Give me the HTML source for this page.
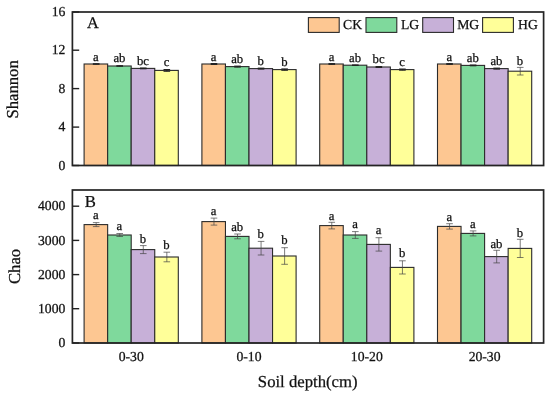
<!DOCTYPE html>
<html><head><meta charset="utf-8"><title>Chart</title>
<style>
html,body{margin:0;padding:0;background:#fff;}
svg{display:block;}
text{font-family:"Liberation Serif","Times New Roman",serif;fill:#111;text-rendering:geometricPrecision;stroke:#111;stroke-width:0.25px;}
.t{font-size:13.7px;}
.l{font-size:12.7px;}
.lg{font-size:13.7px;}
.ti{font-size:16.7px;}
</style></head>
<body>
<svg width="550" height="395" viewBox="0 0 550 395">
<rect x="0" y="0" width="550" height="395" fill="#ffffff"/>
<rect x="84.10" y="64.00" width="23.55" height="101.50" fill="#FDC792" stroke="#2b2b2b" stroke-width="1.1"/>
<rect x="107.65" y="66.00" width="23.55" height="99.50" fill="#7FD99C" stroke="#2b2b2b" stroke-width="1.1"/>
<rect x="131.20" y="68.40" width="23.55" height="97.10" fill="#C7B0D8" stroke="#2b2b2b" stroke-width="1.1"/>
<rect x="154.75" y="70.40" width="23.55" height="95.10" fill="#FFFF99" stroke="#2b2b2b" stroke-width="1.1"/>
<rect x="201.90" y="64.00" width="23.55" height="101.50" fill="#FDC792" stroke="#2b2b2b" stroke-width="1.1"/>
<rect x="225.45" y="66.60" width="23.55" height="98.90" fill="#7FD99C" stroke="#2b2b2b" stroke-width="1.1"/>
<rect x="249.00" y="68.60" width="23.55" height="96.90" fill="#C7B0D8" stroke="#2b2b2b" stroke-width="1.1"/>
<rect x="272.55" y="69.60" width="23.55" height="95.90" fill="#FFFF99" stroke="#2b2b2b" stroke-width="1.1"/>
<rect x="319.70" y="64.00" width="23.55" height="101.50" fill="#FDC792" stroke="#2b2b2b" stroke-width="1.1"/>
<rect x="343.25" y="65.20" width="23.55" height="100.30" fill="#7FD99C" stroke="#2b2b2b" stroke-width="1.1"/>
<rect x="366.80" y="67.00" width="23.55" height="98.50" fill="#C7B0D8" stroke="#2b2b2b" stroke-width="1.1"/>
<rect x="390.35" y="69.60" width="23.55" height="95.90" fill="#FFFF99" stroke="#2b2b2b" stroke-width="1.1"/>
<rect x="437.50" y="64.00" width="23.55" height="101.50" fill="#FDC792" stroke="#2b2b2b" stroke-width="1.1"/>
<rect x="461.05" y="65.40" width="23.55" height="100.10" fill="#7FD99C" stroke="#2b2b2b" stroke-width="1.1"/>
<rect x="484.60" y="68.60" width="23.55" height="96.90" fill="#C7B0D8" stroke="#2b2b2b" stroke-width="1.1"/>
<rect x="508.15" y="71.20" width="23.55" height="94.30" fill="#FFFF99" stroke="#2b2b2b" stroke-width="1.1"/>
<path d="M96.17 63.70V64.30M92.88 63.70h6.6M92.88 64.30h6.6" stroke="#222" stroke-width="1.0" fill="none"/>
<text x="95.88" y="61.00" class="l" text-anchor="middle">a</text>
<path d="M119.72 65.70V66.30M116.42 65.70h6.6M116.42 66.30h6.6" stroke="#222" stroke-width="1.0" fill="none"/>
<text x="119.42" y="62.40" class="l" text-anchor="middle">ab</text>
<path d="M143.28 68.00V68.80M139.97 68.00h6.6M139.97 68.80h6.6" stroke="#222" stroke-width="1.0" fill="none"/>
<text x="142.97" y="65.00" class="l" text-anchor="middle">bc</text>
<path d="M166.83 69.50V71.30M163.53 69.50h6.6M163.53 71.30h6.6" stroke="#222" stroke-width="1.0" fill="none"/>
<text x="166.53" y="66.00" class="l" text-anchor="middle">c</text>
<path d="M213.98 63.50V64.50M210.68 63.50h6.6M210.68 64.50h6.6" stroke="#222" stroke-width="1.0" fill="none"/>
<text x="213.68" y="61.00" class="l" text-anchor="middle">a</text>
<path d="M237.53 66.10V67.10M234.23 66.10h6.6M234.23 67.10h6.6" stroke="#222" stroke-width="1.0" fill="none"/>
<text x="237.23" y="63.00" class="l" text-anchor="middle">ab</text>
<path d="M261.07 68.10V69.10M257.77 68.10h6.6M257.77 69.10h6.6" stroke="#222" stroke-width="1.0" fill="none"/>
<text x="260.77" y="65.00" class="l" text-anchor="middle">b</text>
<path d="M284.62 68.90V70.30M281.32 68.90h6.6M281.32 70.30h6.6" stroke="#222" stroke-width="1.0" fill="none"/>
<text x="284.32" y="65.60" class="l" text-anchor="middle">b</text>
<path d="M331.77 63.60V64.40M328.47 63.60h6.6M328.47 64.40h6.6" stroke="#222" stroke-width="1.0" fill="none"/>
<text x="331.47" y="61.00" class="l" text-anchor="middle">a</text>
<path d="M355.32 64.90V65.50M352.02 64.90h6.6M352.02 65.50h6.6" stroke="#222" stroke-width="1.0" fill="none"/>
<text x="355.02" y="62.00" class="l" text-anchor="middle">ab</text>
<path d="M378.88 66.50V67.50M375.57 66.50h6.6M375.57 67.50h6.6" stroke="#222" stroke-width="1.0" fill="none"/>
<text x="378.57" y="63.00" class="l" text-anchor="middle">bc</text>
<path d="M402.43 69.00V70.20M399.12 69.00h6.6M399.12 70.20h6.6" stroke="#222" stroke-width="1.0" fill="none"/>
<text x="402.12" y="66.00" class="l" text-anchor="middle">c</text>
<path d="M449.57 63.60V64.40M446.27 63.60h6.6M446.27 64.40h6.6" stroke="#222" stroke-width="1.0" fill="none"/>
<text x="449.27" y="61.00" class="l" text-anchor="middle">a</text>
<path d="M473.12 65.00V65.80M469.82 65.00h6.6M469.82 65.80h6.6" stroke="#222" stroke-width="1.0" fill="none"/>
<text x="472.82" y="61.60" class="l" text-anchor="middle">ab</text>
<path d="M496.68 68.10V69.10M493.38 68.10h6.6M493.38 69.10h6.6" stroke="#222" stroke-width="1.0" fill="none"/>
<text x="496.38" y="64.60" class="l" text-anchor="middle">ab</text>
<path d="M520.22 67.40V75.00M516.92 67.40h6.6M516.92 75.00h6.6" stroke="#444" stroke-width="0.7" fill="none"/>
<text x="519.92" y="64.60" class="l" text-anchor="middle">b</text>
<rect x="84.10" y="224.60" width="23.55" height="118.40" fill="#FDC792" stroke="#2b2b2b" stroke-width="1.1"/>
<rect x="107.65" y="235.00" width="23.55" height="108.00" fill="#7FD99C" stroke="#2b2b2b" stroke-width="1.1"/>
<rect x="131.20" y="249.60" width="23.55" height="93.40" fill="#C7B0D8" stroke="#2b2b2b" stroke-width="1.1"/>
<rect x="154.75" y="257.00" width="23.55" height="86.00" fill="#FFFF99" stroke="#2b2b2b" stroke-width="1.1"/>
<rect x="201.90" y="221.60" width="23.55" height="121.40" fill="#FDC792" stroke="#2b2b2b" stroke-width="1.1"/>
<rect x="225.45" y="236.40" width="23.55" height="106.60" fill="#7FD99C" stroke="#2b2b2b" stroke-width="1.1"/>
<rect x="249.00" y="248.20" width="23.55" height="94.80" fill="#C7B0D8" stroke="#2b2b2b" stroke-width="1.1"/>
<rect x="272.55" y="256.00" width="23.55" height="87.00" fill="#FFFF99" stroke="#2b2b2b" stroke-width="1.1"/>
<rect x="319.70" y="225.60" width="23.55" height="117.40" fill="#FDC792" stroke="#2b2b2b" stroke-width="1.1"/>
<rect x="343.25" y="235.00" width="23.55" height="108.00" fill="#7FD99C" stroke="#2b2b2b" stroke-width="1.1"/>
<rect x="366.80" y="244.40" width="23.55" height="98.60" fill="#C7B0D8" stroke="#2b2b2b" stroke-width="1.1"/>
<rect x="390.35" y="267.40" width="23.55" height="75.60" fill="#FFFF99" stroke="#2b2b2b" stroke-width="1.1"/>
<rect x="437.50" y="226.40" width="23.55" height="116.60" fill="#FDC792" stroke="#2b2b2b" stroke-width="1.1"/>
<rect x="461.05" y="233.40" width="23.55" height="109.60" fill="#7FD99C" stroke="#2b2b2b" stroke-width="1.1"/>
<rect x="484.60" y="256.60" width="23.55" height="86.40" fill="#C7B0D8" stroke="#2b2b2b" stroke-width="1.1"/>
<rect x="508.15" y="248.40" width="23.55" height="94.60" fill="#FFFF99" stroke="#2b2b2b" stroke-width="1.1"/>
<path d="M96.17 222.60V226.60M92.88 222.60h6.6M92.88 226.60h6.6" stroke="#444" stroke-width="0.7" fill="none"/>
<text x="95.88" y="219.00" class="l" text-anchor="middle">a</text>
<path d="M119.72 233.50V236.50M116.42 233.50h6.6M116.42 236.50h6.6" stroke="#444" stroke-width="0.7" fill="none"/>
<text x="119.42" y="230.00" class="l" text-anchor="middle">a</text>
<path d="M143.28 245.60V253.60M139.97 245.60h6.6M139.97 253.60h6.6" stroke="#444" stroke-width="0.7" fill="none"/>
<text x="142.97" y="243.00" class="l" text-anchor="middle">b</text>
<path d="M166.83 252.20V261.80M163.53 252.20h6.6M163.53 261.80h6.6" stroke="#444" stroke-width="0.7" fill="none"/>
<text x="166.53" y="249.40" class="l" text-anchor="middle">b</text>
<path d="M213.98 218.10V225.10M210.68 218.10h6.6M210.68 225.10h6.6" stroke="#444" stroke-width="0.7" fill="none"/>
<text x="213.68" y="215.00" class="l" text-anchor="middle">a</text>
<path d="M237.53 234.00V238.80M234.23 234.00h6.6M234.23 238.80h6.6" stroke="#444" stroke-width="0.7" fill="none"/>
<text x="237.23" y="231.00" class="l" text-anchor="middle">ab</text>
<path d="M261.07 241.40V255.00M257.77 241.40h6.6M257.77 255.00h6.6" stroke="#444" stroke-width="0.7" fill="none"/>
<text x="260.77" y="238.00" class="l" text-anchor="middle">b</text>
<path d="M284.62 247.70V264.30M281.32 247.70h6.6M281.32 264.30h6.6" stroke="#444" stroke-width="0.7" fill="none"/>
<text x="284.32" y="244.40" class="l" text-anchor="middle">b</text>
<path d="M331.77 222.30V228.90M328.47 222.30h6.6M328.47 228.90h6.6" stroke="#444" stroke-width="0.7" fill="none"/>
<text x="331.47" y="219.60" class="l" text-anchor="middle">a</text>
<path d="M355.32 231.60V238.40M352.02 231.60h6.6M352.02 238.40h6.6" stroke="#444" stroke-width="0.7" fill="none"/>
<text x="355.02" y="228.40" class="l" text-anchor="middle">a</text>
<path d="M378.88 237.70V251.10M375.57 237.70h6.6M375.57 251.10h6.6" stroke="#444" stroke-width="0.7" fill="none"/>
<text x="378.57" y="234.40" class="l" text-anchor="middle">a</text>
<path d="M402.43 260.80V274.00M399.12 260.80h6.6M399.12 274.00h6.6" stroke="#444" stroke-width="0.7" fill="none"/>
<text x="402.12" y="257.00" class="l" text-anchor="middle">b</text>
<path d="M449.57 223.70V229.10M446.27 223.70h6.6M446.27 229.10h6.6" stroke="#444" stroke-width="0.7" fill="none"/>
<text x="449.27" y="221.00" class="l" text-anchor="middle">a</text>
<path d="M473.12 230.90V235.90M469.82 230.90h6.6M469.82 235.90h6.6" stroke="#444" stroke-width="0.7" fill="none"/>
<text x="472.82" y="228.40" class="l" text-anchor="middle">a</text>
<path d="M496.68 250.30V262.90M493.38 250.30h6.6M493.38 262.90h6.6" stroke="#444" stroke-width="0.7" fill="none"/>
<text x="496.38" y="247.60" class="l" text-anchor="middle">ab</text>
<path d="M520.22 239.30V257.50M516.92 239.30h6.6M516.92 257.50h6.6" stroke="#444" stroke-width="0.7" fill="none"/>
<text x="519.92" y="236.60" class="l" text-anchor="middle">b</text>
<rect x="72.4" y="12.0" width="471.20" height="153.50" fill="none" stroke="#242424" stroke-width="1.7"/>
<rect x="72.4" y="190.0" width="471.20" height="153.00" fill="none" stroke="#242424" stroke-width="1.7"/>
<path d="M72.4 12.0h6.8" stroke="#222" stroke-width="1.4"/>
<text x="65.4" y="16.20" class="t" text-anchor="end">16</text>
<path d="M72.4 50.2h6.8" stroke="#222" stroke-width="1.4"/>
<text x="65.4" y="54.40" class="t" text-anchor="end">12</text>
<path d="M72.4 88.6h6.8" stroke="#222" stroke-width="1.4"/>
<text x="65.4" y="92.80" class="t" text-anchor="end">8</text>
<path d="M72.4 127.1h6.8" stroke="#222" stroke-width="1.4"/>
<text x="65.4" y="131.30" class="t" text-anchor="end">4</text>
<path d="M72.4 165.5h6.8" stroke="#222" stroke-width="1.4"/>
<text x="65.4" y="169.70" class="t" text-anchor="end">0</text>
<path d="M72.4 206.2h6.8" stroke="#222" stroke-width="1.4"/>
<text x="65.4" y="210.40" class="t" text-anchor="end">4000</text>
<path d="M72.4 240.4h6.8" stroke="#222" stroke-width="1.4"/>
<text x="65.4" y="244.60" class="t" text-anchor="end">3000</text>
<path d="M72.4 274.6h6.8" stroke="#222" stroke-width="1.4"/>
<text x="65.4" y="278.80" class="t" text-anchor="end">2000</text>
<path d="M72.4 308.7h6.8" stroke="#222" stroke-width="1.4"/>
<text x="65.4" y="312.90" class="t" text-anchor="end">1000</text>
<path d="M72.4 343h6.8" stroke="#222" stroke-width="1.4"/>
<text x="65.4" y="347.20" class="t" text-anchor="end">0</text>
<text x="131.20" y="360.9" class="t" text-anchor="middle">0-30</text>
<text x="249.00" y="360.9" class="t" text-anchor="middle">0-10</text>
<text x="366.80" y="360.9" class="t" text-anchor="middle">10-20</text>
<text x="484.60" y="360.9" class="t" text-anchor="middle">20-30</text>
<text x="307.7" y="387.4" class="ti" text-anchor="middle">Soil depth(cm)</text>
<text transform="translate(18.4 89.4) rotate(-90)" class="ti" text-anchor="middle">Shannon</text>
<text transform="translate(19.5 266.4) rotate(-90)" class="ti" text-anchor="middle">Chao</text>
<text x="87.1" y="28.2" class="ti" style="font-size:16.3px">A</text>
<text x="84.8" y="206.6" class="ti">B</text>
<rect x="308.4" y="17.6" width="30.8" height="14.8" fill="#FDC792" stroke="#2b2b2b" stroke-width="1.1"/>
<text x="343" y="29.1" class="lg">CK</text>
<rect x="366" y="17.6" width="30.8" height="14.8" fill="#7FD99C" stroke="#2b2b2b" stroke-width="1.1"/>
<text x="401" y="29.1" class="lg">LG</text>
<rect x="422.7" y="17.6" width="30.8" height="14.8" fill="#C7B0D8" stroke="#2b2b2b" stroke-width="1.1"/>
<text x="457.2" y="29.1" class="lg">MG</text>
<rect x="482.6" y="17.6" width="30.8" height="14.8" fill="#FFFF99" stroke="#2b2b2b" stroke-width="1.1"/>
<text x="518" y="29.1" class="lg">HG</text>
</svg>
</body></html>
